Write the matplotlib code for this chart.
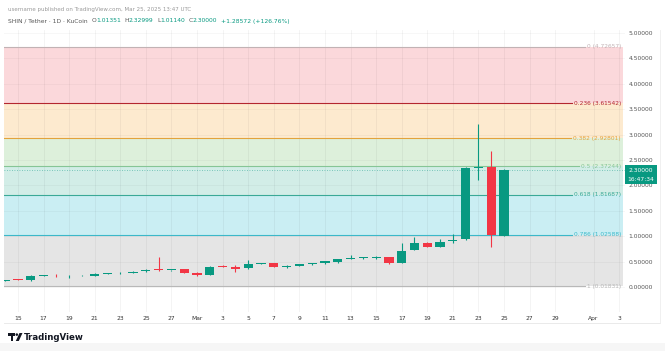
import matplotlib.pyplot as plt
import matplotlib.patches as mpatches
import matplotlib.transforms as mtransforms
import pandas as pd

# daily candles, Feb 14 .. Mar 25 2025
dates = pd.date_range('2025-02-14', '2025-03-25', freq='D')
opens = [0.12, 0.15, 0.13, 0.22, 0.24, 0.23, 0.23, 0.22, 0.26, 0.27,
         0.28, 0.31, 0.34, 0.33, 0.35, 0.28, 0.24, 0.42, 0.39, 0.37,
         0.46, 0.47, 0.40, 0.42, 0.45, 0.47, 0.49, 0.56, 0.57, 0.58,
         0.59, 0.48, 0.73, 0.87, 0.79, 0.90, 0.95, 2.35, 2.37, 1.01351]
highs = [0.13, 0.15, 0.24, 0.24, 0.26, 0.24, 0.24, 0.27, 0.28, 0.29,
         0.31, 0.36, 0.59, 0.34, 0.36, 0.29, 0.41, 0.43, 0.43, 0.53,
         0.47, 0.48, 0.43, 0.45, 0.48, 0.51, 0.56, 0.63, 0.60, 0.61,
         0.60, 0.87, 0.98, 0.88, 0.94, 1.04, 2.36, 3.21, 2.68, 2.32999]
lows = [0.11, 0.13, 0.12, 0.21, 0.20, 0.18, 0.22, 0.21, 0.25, 0.25,
        0.27, 0.29, 0.32, 0.32, 0.27, 0.22, 0.23, 0.40, 0.29, 0.36,
        0.45, 0.39, 0.38, 0.42, 0.44, 0.46, 0.48, 0.55, 0.55, 0.56,
        0.46, 0.47, 0.72, 0.78, 0.78, 0.86, 0.93, 2.11, 0.79, 1.01140]
closes = [0.13, 0.14, 0.22, 0.23, 0.23, 0.23, 0.24, 0.26, 0.27, 0.28,
          0.30, 0.33, 0.33, 0.34, 0.28, 0.23, 0.40, 0.40, 0.36, 0.46,
          0.47, 0.40, 0.42, 0.45, 0.47, 0.51, 0.55, 0.57, 0.58, 0.59,
          0.48, 0.71, 0.87, 0.79, 0.89, 0.92, 2.34, 2.37, 1.01428, 2.30000]

fib_levels = ['0', '0.236', '0.382', '0.5', '0.618', '0.786', '1']
fib_prices = [4.72657, 3.61542, 2.92801, 2.37244, 1.81687, 1.02588, 0.01831]
fib_colors = ['#c2b2b4', '#b3262f', '#e3a33c', '#86c596', '#3aa997', '#3cb8c9', '#b8b8b8']
band_colors = ['#fbd8db', '#fdeacf', '#ddf0db', '#d2ede7', '#caeef3', '#e5e5e5']

tick_dates = ['2025-02-15', '2025-02-17', '2025-02-19', '2025-02-21', '2025-02-23',
              '2025-02-25', '2025-02-27', '2025-03-01', '2025-03-03', '2025-03-05',
              '2025-03-07', '2025-03-09', '2025-03-11', '2025-03-13', '2025-03-15',
              '2025-03-17', '2025-03-19', '2025-03-21', '2025-03-23', '2025-03-25',
              '2025-03-27', '2025-03-29', '2025-04-01', '2025-04-03']
tick_labels = ['15', '17', '19', '21', '23', '25', '27', 'Mar', '3', '5', '7', '9',
               '11', '13', '15', '17', '19', '21', '23', '25', '27', '29', 'Apr', '3']
price_ticks = [0.0, 0.5, 1.0, 1.5, 2.0, 2.5, 3.0, 3.5, 4.0, 4.5, 5.0]

GREEN = '#089981'
RED = '#f23645'
W, H = 665, 351


def fx(px):
    return px / W


def fy(py):
    return 1 - py / H


fig = plt.figure(figsize=(6.65, 3.51), dpi=100)
ax = fig.add_axes([fx(4), fy(312), (625 - 4) / W, (312 - 30) / H])
xs = [(d - dates[0]).days for d in dates]
ax.set_xlim(-0.094, 48.46)
ax.set_ylim(-0.492, 5.059)
for s in ax.spines.values():
    s.set_visible(False)

# fib bands
for i in range(len(band_colors)):
    ax.axhspan(fib_prices[i + 1], fib_prices[i], xmin=0, xmax=0.997,
               color=band_colors[i], lw=0, zorder=0)

# grid
tick_x = [(pd.Timestamp(d) - dates[0]).days for d in tick_dates]
for t in tick_x:
    ax.axvline(t, color='black', alpha=0.05, lw=0.6, zorder=1)
for p in price_ticks:
    ax.axhline(p, color='black', alpha=0.04, lw=0.6, zorder=1)

# fib labels and lines
for lvl, pr, col in zip(fib_levels, fib_prices, fib_colors):
    trans = mtransforms.blended_transform_factory(ax.transAxes, ax.transData)
    t = ax.text(0.9936, pr, f'{lvl} ({pr:.5f})', transform=trans, ha='right',
                va='center', fontsize=4.2, color=col, zorder=3)
    fig.canvas.draw()
    bb = t.get_window_extent()
    inv = ax.transAxes.inverted()
    x0 = inv.transform((bb.x0 - 2, 0))[0]
    ax.plot([0, x0], [pr, pr], transform=trans, color=col, lw=0.8, zorder=2)

# candles
for x, o, h, l, c in zip(xs, opens, highs, lows, closes):
    col = GREEN if c >= o else RED
    ax.vlines(x, l, h, color=col, lw=0.8, zorder=4)
    ax.add_patch(mpatches.Rectangle((x - 0.36, min(o, c)), 0.72,
                                    max(abs(c - o), 0.015), color=col, lw=0, zorder=5))

# current price line
ax.axhline(closes[-1], color=GREEN, lw=0.6, alpha=0.6, ls=(0, (1, 2)), zorder=3)

ax.set_xticks(tick_x)
ax.set_xticklabels(tick_labels)
ax.yaxis.tick_right()
ax.set_yticks(price_ticks)
ax.set_yticklabels([f'{p:.5f}' for p in price_ticks])
ax.tick_params(axis='x', length=0, pad=2.6, labelsize=4.3, labelcolor='#333333')
ax.tick_params(axis='y', length=0, pad=2.5, labelsize=4.3, labelcolor='#555555')

# price box
fig.patches.append(mpatches.Rectangle((fx(625), fy(184)), 32 / W, 19 / H,
                                      transform=fig.transFigure, color=GREEN, lw=0))
fig.text(fx(641), fy(170), f'{closes[-1]:.5f}', ha='center', va='center',
         fontsize=4.3, color='white')
fig.text(fx(641), fy(179.5), '16:47:34', ha='center', va='center',
         fontsize=4.3, color='white')

# frame lines
fig.add_artist(plt.Line2D([fx(4), fx(660)], [fy(323), fy(323)], color='#e6e6e6', lw=0.6))
fig.add_artist(plt.Line2D([fx(660), fx(660)], [fy(30), fy(323)], color='#eeeeee', lw=0.6))

# header
fig.text(fx(8), fy(10), 'username published on TradingView.com, Mar 25, 2025 13:47 UTC',
         fontsize=4.0, color='#9a9a9a', va='center')
pieces = [('SHIN / Tether · 1D · KuCoin', '#555555'), ('O', '#555555'),
          (f'{opens[-1]:.5f}', GREEN), ('H', '#555555'), (f'{highs[-1]:.5f}', GREEN),
          ('L', '#555555'), (f'{lows[-1]:.5f}', GREEN), ('C', '#555555'),
          (f'{closes[-1]:.5f}', GREEN)]
chg = closes[-1] - closes[-2]
pieces.append((f'+{chg:.5f} (+{chg / closes[-2] * 100:.2f}%)', GREEN))
cur = 8
for i, (txt, col) in enumerate(pieces):
    t = fig.text(fx(cur), fy(21), txt, fontsize=4.3, color=col, va='center')
    fig.canvas.draw()
    bb = t.get_window_extent()
    gap = 0 if col != GREEN and txt in 'OHLC' else 3.5
    cur += bb.width + gap

# TradingView logo
logo = '#131722'
fig.patches.append(mpatches.Polygon([(fx(8), fy(333)), (fx(15), fy(333)), (fx(15), fy(336)),
                                     (fx(13), fy(336)), (fx(13), fy(341)), (fx(10.5), fy(341)),
                                     (fx(10.5), fy(336)), (fx(8), fy(336))],
                                    closed=True, transform=fig.transFigure, color=logo, lw=0))
fig.patches.append(mpatches.Ellipse((fx(16.8), fy(334.6)), 2.6 / W, 2.6 / H,
                                    transform=fig.transFigure, color=logo, lw=0))
fig.patches.append(mpatches.Polygon([(fx(19.5), fy(333)), (fx(22.5), fy(333)), (fx(18.8), fy(341)),
                                     (fx(15.8), fy(341))],
                                    closed=True, transform=fig.transFigure, color=logo, lw=0))
fig.text(fx(23.5), fy(337.3), 'TradingView', fontsize=6.2, fontweight='bold', color=logo,
         va='center')

# bottom strip
fig.patches.append(mpatches.Rectangle((0, 0), 1, 8 / H, transform=fig.transFigure,
                                      color='#f6f6f6', lw=0))

fig.savefig('out.png', dpi=100)
